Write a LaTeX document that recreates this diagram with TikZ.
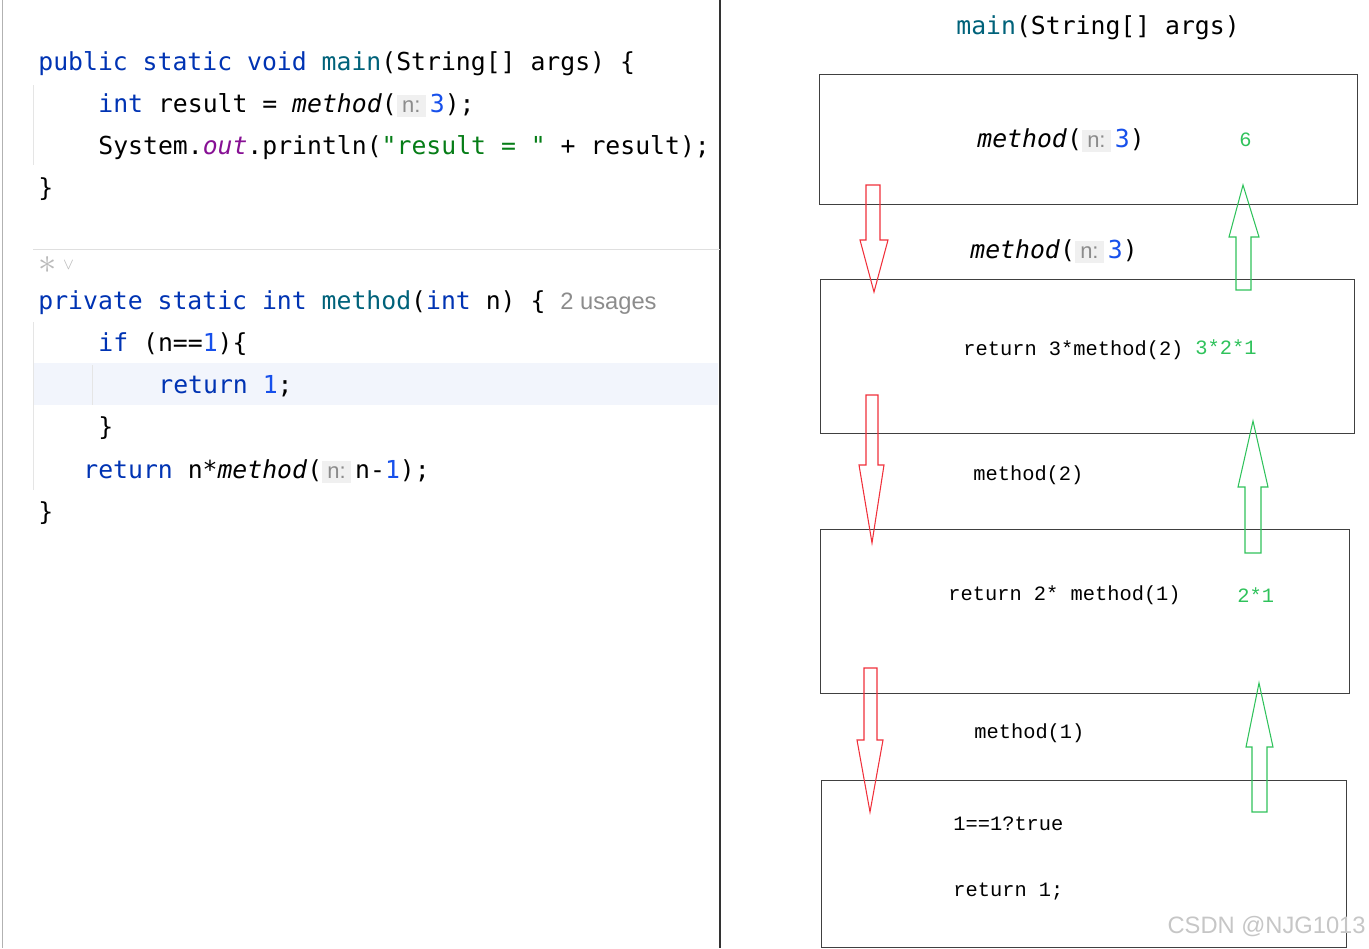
\documentclass[tikz,border=0pt]{standalone}
\usepackage{fontspec}
\setmainfont{Liberation Serif}
\setsansfont{Liberation Sans}
\newfontfamily\codefont{DejaVu Sans Mono}
\newfontfamily\simfont{Liberation Mono}
\definecolor{kw}{HTML}{0033B3}
\definecolor{fn}{HTML}{00627A}
\definecolor{num}{HTML}{1750EB}
\definecolor{str}{HTML}{067D17}
\definecolor{outc}{HTML}{871094}
\definecolor{hintfg}{HTML}{8C8C8C}
\definecolor{hintbg}{HTML}{F0F0F0}
\definecolor{hl}{HTML}{F2F5FC}
\definecolor{redA}{HTML}{F0303A}
\definecolor{greenA}{HTML}{2FC25B}
\newcommand{\hintbox}{{\setlength\fboxsep{3pt}\colorbox{hintbg}{\textcolor{hintfg}{\sffamily\fontsize{12.5}{13}\selectfont n:}}}}
\begin{document}
\begin{tikzpicture}[x=0.02cm,y=-0.02cm,
  code/.style={anchor=base west,inner sep=0pt,font=\codefont\fontsize{14.1}{15}\selectfont},
  sim/.style={anchor=base west,inner sep=0pt,font=\simfont\fontsize{11.6}{13}\selectfont},
  grn/.style={anchor=base west,inner sep=0pt,text=greenA,font=\simfont\fontsize{11.6}{13}\selectfont},
  box/.style={draw=black!75,line width=0.7pt},
  down/.style={draw=redA,line width=0.6pt},
  up/.style={draw=greenA,line width=0.6pt}]
\useasboundingbox (0,0) rectangle (1369,948);
% frame and separators
\draw[gray!60] (2,0) -- (2,948);
\draw[black!80,line width=0.8pt] (720,0) -- (720,948);
\draw[gray!25] (33,249) -- (720,249);
\fill[hl] (33,363) rectangle (718,405);
\draw[gray!20] (33,85) -- (33,165);
\draw[gray!20] (33,322) -- (33,490);
\draw[gray!20] (92,365) -- (92,405);
% code
\node[code] (l1) at (38,70) {\textcolor{kw}{public static void} \textcolor{fn}{main}(String[] args) \{};
\node[code] (l2) at (98,112) {\textcolor{kw}{int} result = \textit{method}(\hintbox\,\textcolor{num}{3});};
\node[code] (l3) at (98,154) {System.\textcolor{outc}{\textit{out}}.println(\textcolor{str}{"result = "} + result);};
\node[code] (l4) at (38,196) {\}};
\node[anchor=west,inner sep=0pt,text=gray!55,font=\sffamily] (icon) at (38,265) {\fontsize{22}{22}\selectfont$\ast$\,\raisebox{2pt}{\fontsize{9}{9}\selectfont$\vee$}};
\node[code] (l5) at (38,309) {\textcolor{kw}{private static int} \textcolor{fn}{method}(\textcolor{kw}{int} n) \{ \textcolor{hintfg}{\sffamily\fontsize{13.5}{14}\selectfont 2 usages}};
\node[code] (l6) at (98,351) {\textcolor{kw}{if} (n==\textcolor{num}{1})\{};
\node[code] (l7) at (158,393) {\textcolor{kw}{return} \textcolor{num}{1};};
\node[code] (l8) at (98,435) {\}};
\node[code] (l9) at (83,478) {\textcolor{kw}{return} n*\textit{method}(\hintbox\,n-\textcolor{num}{1});};
\node[code] (l10) at (38,520) {\}};
% right side
\node[code] (mainlbl) at (956,34) {\textcolor{fn}{main}(String[] args)};
\node[box,minimum width=538*0.02cm,minimum height=130*0.02cm,anchor=north west] (b1) at (819,74) {};
\node[box,minimum width=534*0.02cm,minimum height=154*0.02cm,anchor=north west] (b2) at (820,279) {};
\node[box,minimum width=529*0.02cm,minimum height=164*0.02cm,anchor=north west] (b3) at (820,529) {};
\node[box,minimum width=525*0.02cm,minimum height=167*0.02cm,anchor=north west] (b4) at (821,780) {};
\node[code] (t1) at (977,147) {\textit{method}(\hintbox\,\textcolor{num}{3})};
\node[grn] (g1) at (1239,146) {6};
\node[code] (t2) at (970,258) {\textit{method}(\hintbox\,\textcolor{num}{3})};
\node[sim] (t3) at (963,355) {return 3*method(2)};
\node[grn] (g3) at (1195,354) {3*2*1};
\node[sim] (t4) at (973,480) {method(2)};
\node[sim] (t5) at (948,600) {return 2* method(1)};
\node[grn] (g5) at (1237,602) {2*1};
\node[sim] (t6) at (974,738) {method(1)};
\node[sim] (t7) at (953,830) {1==1?true};
\node[sim] (t8) at (953,896) {return 1;};
\node[anchor=base east,inner sep=0pt,text=gray!45,font=\sffamily\fontsize{13.5}{14}\selectfont] (wm) at (1366,933) {CSDN @NJG1013};
% block arrows
\draw[down] (866,185) -- (880,185) -- (880,240) -- (888,240) -- (874,292) -- (860,240) -- (866,240) -- cycle;
\draw[down] (866,395) -- (878,395) -- (878,465) -- (884,465) -- (872,543) -- (859,465) -- (866,465) -- cycle;
\draw[down] (864,668) -- (877,668) -- (877,740) -- (883,740) -- (870,812) -- (857,740) -- (864,740) -- cycle;
\draw[up] (1236,290) -- (1251,290) -- (1251,237) -- (1259,237) -- (1243,185) -- (1229,237) -- (1236,237) -- cycle;
\draw[up] (1245,553) -- (1261,553) -- (1261,487) -- (1268,487) -- (1253,421) -- (1238,487) -- (1245,487) -- cycle;
\draw[up] (1252,812) -- (1267,812) -- (1267,747) -- (1273,747) -- (1259,683) -- (1246,747) -- (1252,747) -- cycle;
\end{tikzpicture}
\end{document}
